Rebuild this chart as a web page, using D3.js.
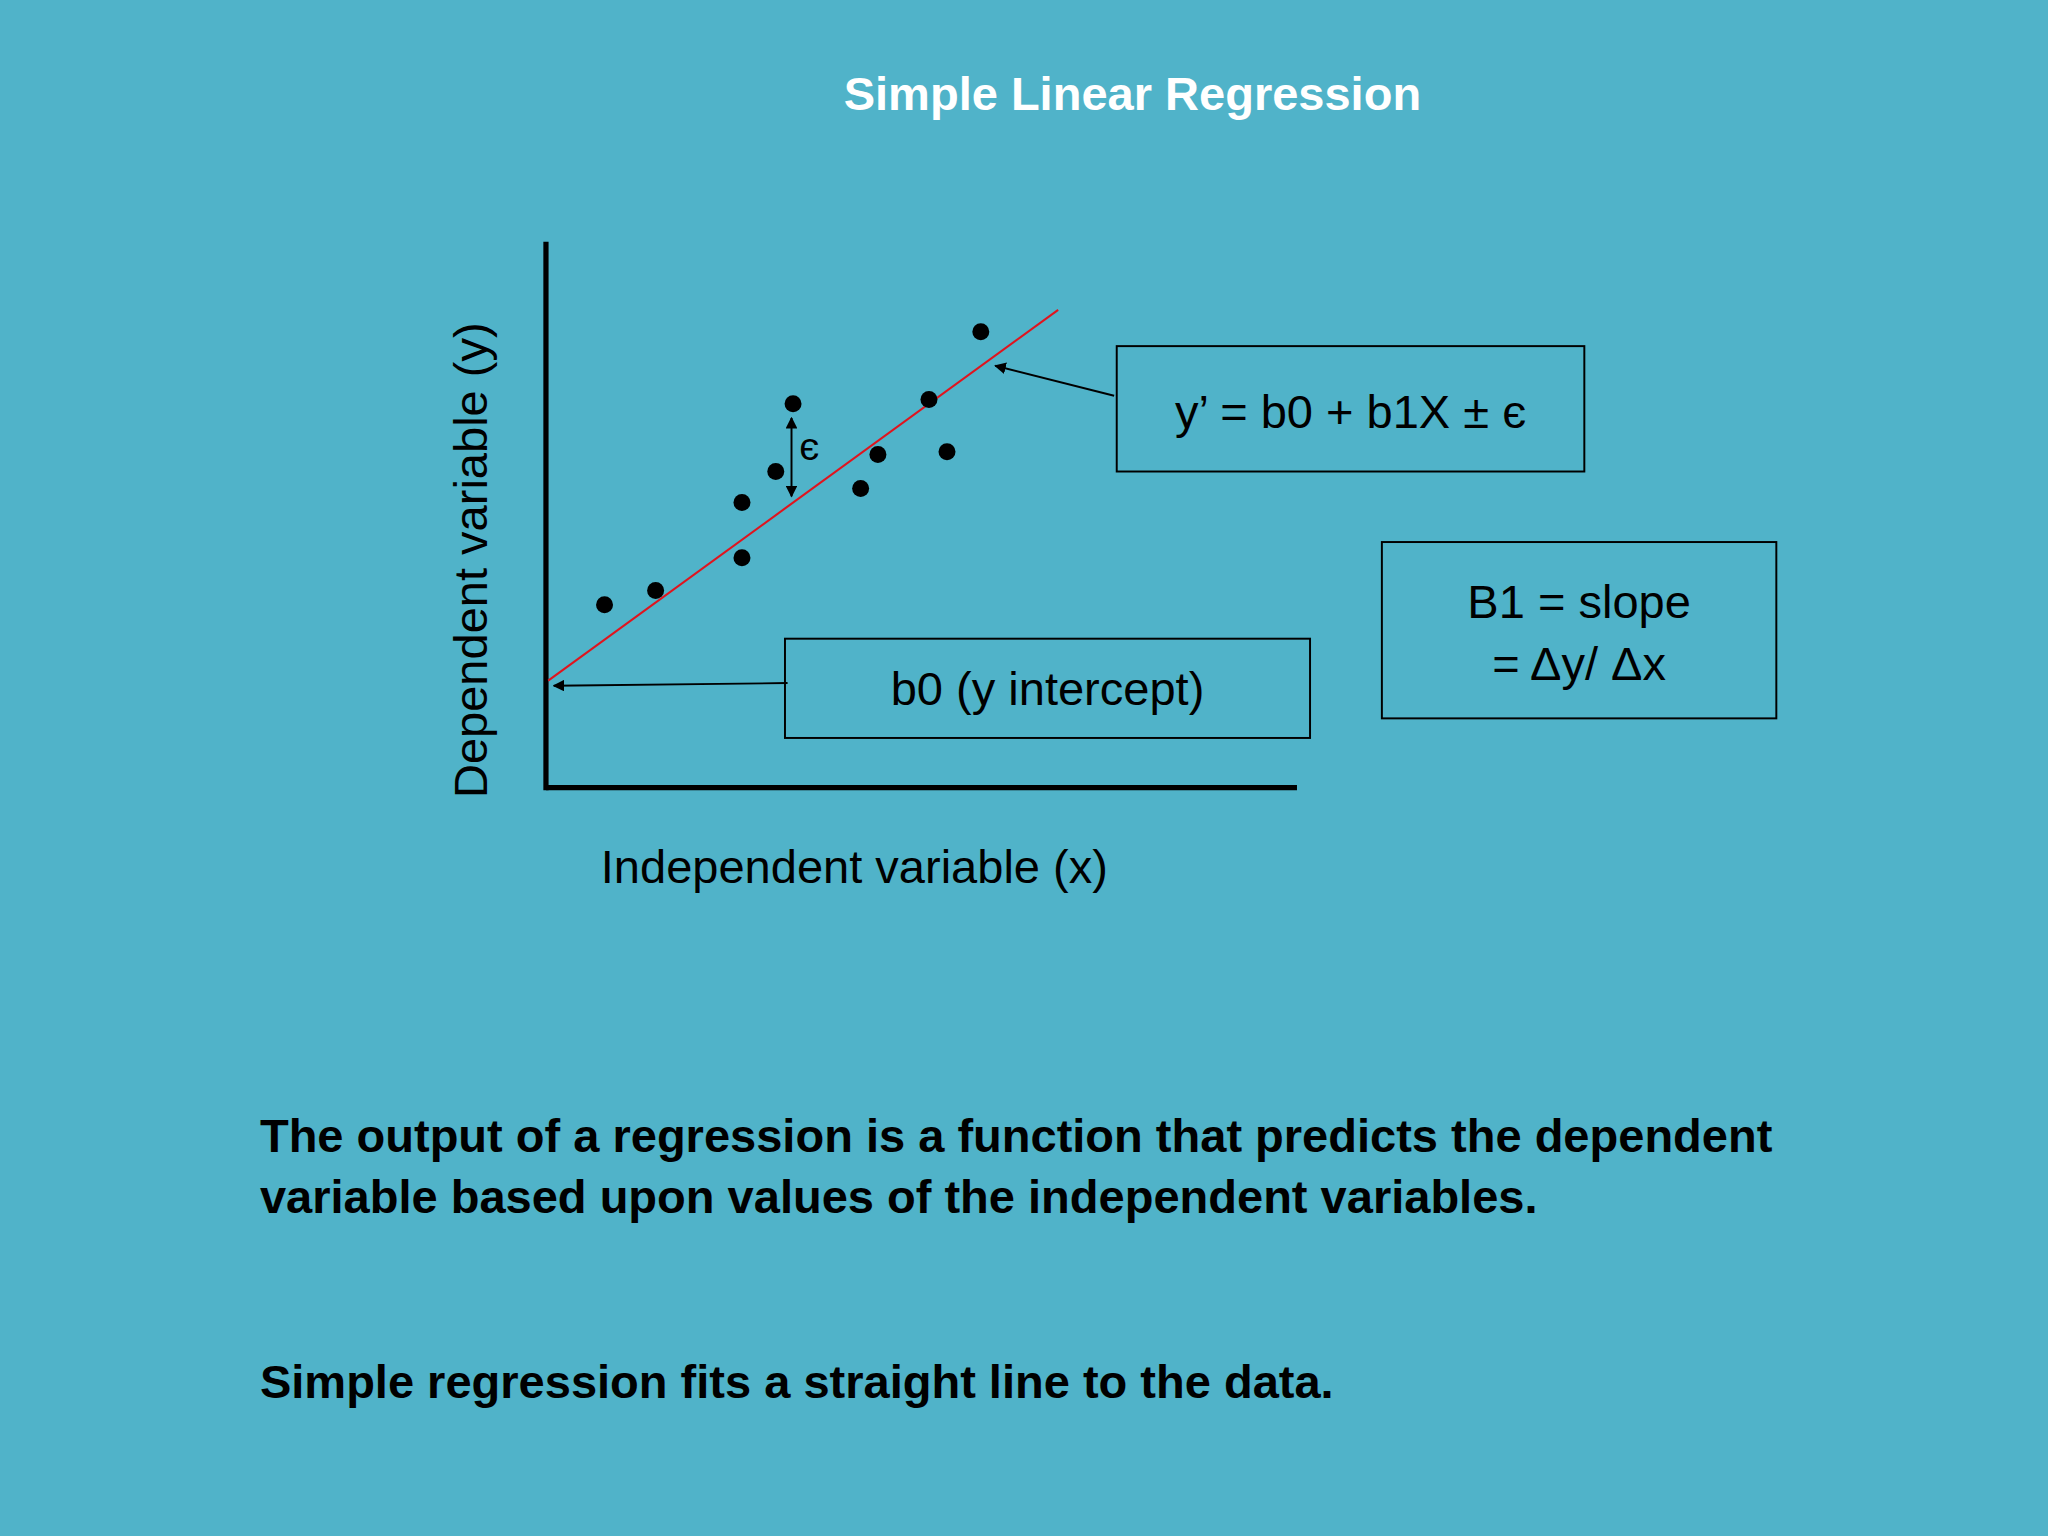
<!DOCTYPE html>
<html><head><meta charset="utf-8">
<script src="https://cdn.jsdelivr.net/npm/d3@7"></script>
<style>body{margin:0;background:#50b3c9}svg{display:block}</style>
</head><body>
<script>
// data points (x, y) in chart units 0-100
var xs = [7.8, 14.6, 26.1, 26.1, 30.6, 32.9, 41.9, 44.2, 51.0, 53.4, 57.9];
var ys = [33.5, 36.1, 52.2, 42.1, 57.9, 70.3, 54.8, 61.0, 71.1, 61.5, 83.5];
var intercept = 19.3, slope = 1.0;
var lineX = [0.3, 68.2];

var svg = d3.select('body').append('svg')
    .attr('width', 2048).attr('height', 1536)
    .attr('viewBox', '0 0 1568 1176');
var font = 'Liberation Sans, Arial, sans-serif';

var x = d3.scaleLinear().domain([0, 100]).range([418, 993]);
var y = d3.scaleLinear().domain([0, 100]).range([603, 185]);

svg.append('defs').append('marker').attr('id', 'ah')
    .attr('viewBox', '0 0 10 10').attr('refX', 9).attr('refY', 5)
    .attr('markerWidth', 9).attr('markerHeight', 9).attr('orient', 'auto-start-reverse')
    .attr('markerUnits', 'userSpaceOnUse')
    .append('path').attr('d', 'M0,0L10,5L0,10z').attr('fill', '#000');

svg.append('text').attr('x', 867).attr('y', 84).attr('text-anchor', 'middle')
    .attr('font-family', font).attr('font-weight', 'bold').attr('font-size', 36)
    .attr('fill', '#fff').text('Simple Linear Regression');

// axes
svg.append('line').attr('x1', x(0)).attr('x2', x(0)).attr('y1', y(0) + 2).attr('y2', y(100))
    .attr('stroke', '#000').attr('stroke-width', 4);
svg.append('line').attr('x1', x(0)).attr('x2', x(100)).attr('y1', y(0)).attr('y2', y(0))
    .attr('stroke', '#000').attr('stroke-width', 4);

svg.append('text').attr('transform', 'translate(373,' + (y(0) + 8) + ') rotate(-90)')
    .attr('font-family', font).attr('font-size', 36).attr('fill', '#000')
    .text('Dependent variable (y)');
svg.append('text').attr('x', 460).attr('y', 676)
    .attr('font-family', font).attr('font-size', 36).attr('fill', '#000')
    .text('Independent variable (x)');

// regression line
svg.append('line')
    .attr('x1', x(lineX[0])).attr('y1', y(intercept + slope * lineX[0]))
    .attr('x2', x(lineX[1])).attr('y2', y(intercept + slope * lineX[1]))
    .attr('stroke', '#e0141e').attr('stroke-width', 1.6);

svg.selectAll('circle.pt').data(xs).enter().append('circle')
    .attr('cx', d => x(d)).attr('cy', (d, i) => y(ys[i])).attr('r', 6.5).attr('fill', '#000');

// epsilon arrow
svg.append('line').attr('x1', 606).attr('x2', 606).attr('y1', 320).attr('y2', 380)
    .attr('stroke', '#000').attr('stroke-width', 1.5)
    .attr('marker-start', 'url(#ah)').attr('marker-end', 'url(#ah)');
svg.append('text').attr('x', 612).attr('y', 352)
    .attr('font-family', font).attr('font-size', 30).text('є');

// boxes
var boxes = [
    {x: 855, y: 265, w: 358, h: 96, lines: ['y’ = b0 + b1X ± є'], ty: [328]},
    {x: 601, y: 489, w: 402, h: 76, lines: ['b0 (y intercept)'], ty: [540]},
    {x: 1058, y: 415, w: 302, h: 135, lines: ['B1 = slope', '= Δy/ Δx'], ty: [473, 521]}
];
boxes.forEach(b => {
    svg.append('rect').attr('x', b.x).attr('y', b.y).attr('width', b.w).attr('height', b.h)
        .attr('fill', 'none').attr('stroke', '#000').attr('stroke-width', 1.5);
    b.lines.forEach((t, i) => {
        svg.append('text').attr('x', b.x + b.w / 2).attr('y', b.ty[i]).attr('text-anchor', 'middle')
            .attr('font-family', font).attr('font-size', 36).attr('fill', '#000').text(t);
    });
});

svg.append('line').attr('x1', 853).attr('y1', 303).attr('x2', 762).attr('y2', 280)
    .attr('stroke', '#000').attr('stroke-width', 1.5).attr('marker-end', 'url(#ah)');
svg.append('line').attr('x1', 603).attr('y1', 523).attr('x2', 424).attr('y2', 525)
    .attr('stroke', '#000').attr('stroke-width', 1.5).attr('marker-end', 'url(#ah)');

var body = [
    {t: 'The output of a regression is a function that predicts the dependent', y: 882},
    {t: 'variable based upon values of the independent variables.', y: 929},
    {t: 'Simple regression fits a straight line to the data.', y: 1070}
];
svg.selectAll('text.body').data(body).enter().append('text')
    .attr('x', 199).attr('y', d => d.y)
    .attr('font-family', font).attr('font-weight', 'bold').attr('font-size', 36)
    .attr('fill', '#000').text(d => d.t);
</script>
</body></html>
